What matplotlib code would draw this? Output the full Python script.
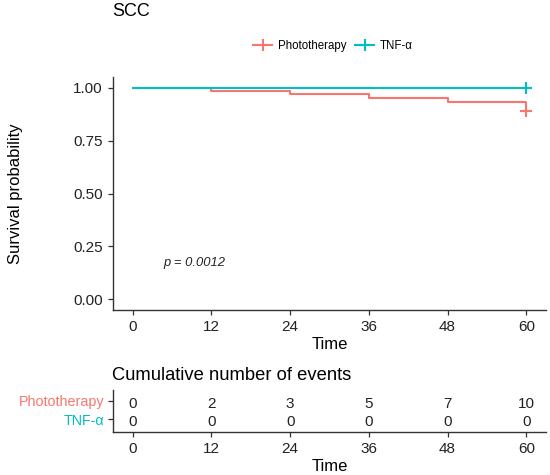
import matplotlib
matplotlib.use("Agg")
import matplotlib.pyplot as plt
import matplotlib.transforms as mtransforms
from matplotlib.lines import Line2D

plt.rcParams['font.family'] = ['Liberation Sans', 'DejaVu Sans']

# Data
times = [0, 12, 24, 36, 48, 60]
surv_photo = [1.0, 0.984, 0.972, 0.951, 0.930, 0.890]
surv_tnf = [1.0, 1.0, 1.0, 1.0, 1.0, 1.0]
groups = ["Phototherapy", "TNF-α"]
events_photo = [0, 2, 3, 5, 7, 10]
events_tnf = [0, 0, 0, 0, 0, 0]
yticks = [0.00, 0.25, 0.50, 0.75, 1.00]
pval_text = "p = 0.0012"

c_photo = "#F8766D"
c_tnf = "#00BFC4"

W, H = 550, 475
fig = plt.figure(figsize=(W / 100, H / 100), dpi=100)

def ax_rect(l, t, r, b):
    return [l / W, 1 - b / H, (r - l) / W, (b - t) / H]

# Main survival axes
ax = fig.add_axes(ax_rect(113, 77, 546, 310))
ax.step(times, surv_photo, where='post', color=c_photo, lw=1.5)
ax.step(times, surv_tnf, where='post', color=c_tnf, lw=1.5)
ax.plot([times[-1]], [surv_photo[-1]], marker='+', color=c_photo, ms=8, mew=1.5, ls='none')
ax.plot([times[-1]], [surv_tnf[-1]], marker='+', color=c_tnf, ms=8, mew=1.5, ls='none')
ax.set_xlim(-3, 63)
ax.set_ylim(-0.05, 1.05)
ax.set_xticks(times)
ax.set_xticklabels([str(t) for t in times])
ax.set_yticks(yticks)
ax.set_yticklabels([f"{v:.2f}" for v in yticks])
for s in ['top', 'right']:
    ax.spines[s].set_visible(False)
for s in ['left', 'bottom']:
    ax.spines[s].set_color('#333333')
    ax.spines[s].set_linewidth(1.0)
ax.tick_params(axis='both', labelsize=11, colors='#333333', length=3.5, width=0.9, pad=4)
ax.tick_params(axis='both', labelcolor='#222222')
ax.set_xlabel("Time", fontsize=12, labelpad=2)
ax.set_ylabel("Survival probability", fontsize=12)
ax.yaxis.set_label_coords(-0.208, 0.5)
ax.text(4.6, 0.17, pval_text, fontsize=9.4, style='italic', ha='left', va='center', color='#222222')

# Title
fig.text(112 / W, 1 - 12 / H, "SCC", fontsize=13, ha='left', va='center')

# Legend
handles = [Line2D([0], [0], color=c_photo, lw=1.5, marker='+', ms=8, mew=1.5),
           Line2D([0], [0], color=c_tnf, lw=1.5, marker='+', ms=8, mew=1.5)]
fig.legend(handles, groups, loc='center', bbox_to_anchor=(333 / W, 1 - 46 / H), ncol=2,
           frameon=False, fontsize=8.3, handlelength=1.6, handletextpad=0.5, columnspacing=0.8)

# Risk table axes
tab = fig.add_axes(ax_rect(113, 390, 546, 432))
shift = mtransforms.ScaledTranslation(0, -3 / 100, fig.dpi_scale_trans)
for vals, yy in [(events_photo, 1), (events_tnf, 0)]:
    for t, v in zip(times, vals):
        tab.text(t, yy, str(v), ha='center', va='center', fontsize=11, color='#222222',
                 transform=tab.transData + shift)
tab.set_xlim(-3, 63)
tab.set_ylim(-0.71, 1.6)
tab.set_xticks(times)
tab.set_xticklabels([str(t) for t in times])
tab.set_yticks([1, 0])
tab.set_yticklabels(groups)
for s in ['top', 'right']:
    tab.spines[s].set_visible(False)
for s in ['left', 'bottom']:
    tab.spines[s].set_color('#333333')
    tab.spines[s].set_linewidth(1.0)
tab.tick_params(axis='both', labelsize=11, colors='#333333', length=3.5, width=0.9, pad=4)
tab.tick_params(axis='y', labelsize=10.3, pad=3)
tab.tick_params(axis='x', labelcolor='#222222')
for lbl, col in zip(tab.get_yticklabels(), [c_photo, c_tnf]):
    lbl.set_color(col)
tab.set_xlabel("Time", fontsize=12, labelpad=2)
fig.text(112 / W, 1 - 375 / H, "Cumulative number of events", fontsize=13.2, ha='left', va='center')

fig.savefig("out.png", dpi=100)
